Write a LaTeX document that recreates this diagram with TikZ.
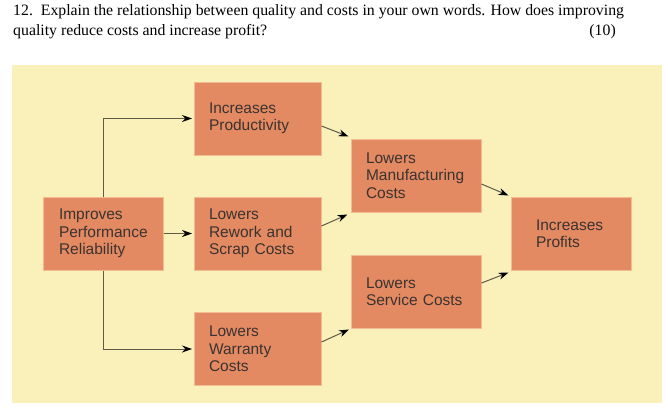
\documentclass[tikz,border=0pt]{standalone}
\usepackage{fontspec}
\setmainfont{Liberation Serif}
\newfontfamily\boxfont{Liberation Sans}
\usetikzlibrary{arrows.meta}

\definecolor{bgyellow}{HTML}{F9F0BA}
\definecolor{boxfill}{HTML}{E48A62}
\definecolor{boxedge}{HTML}{F3BC90}
\definecolor{boxtext}{HTML}{3A3330}
\definecolor{linegray}{HTML}{5E5A48}

\tikzset{
  stepbox/.style={draw=boxedge, line width=1pt, fill=boxfill, text=boxtext,
    font=\boxfont\fontsize{15.5}{17.5}\selectfont, align=left,
    minimum height=73pt, inner ysep=0pt},
  flow/.style={draw=linegray, line width=1pt, -{Stealth[length=10pt,width=7pt,black]}, shorten >=1.5pt},
  question/.style={inner sep=0pt, font=\fontsize{15.8}{20}\selectfont},
}

\begin{document}
\begin{tikzpicture}[x=1pt, y=-1pt]
  \useasboundingbox (0,0) rectangle (668,416);

  % question text
  \node[question, anchor=base west] (q1) at (13,15)
    {12.\ \ Explain the relationship between quality and costs in your own words. How does improving};
  \node[question, anchor=base west] (q2) at (13,35)
    {quality reduce costs and increase profit?};
  \node[question, anchor=base east] (mark) at (616,35) {(10)};

  % yellow panel
  \fill[bgyellow] (12,65) rectangle (662,403);

  % boxes
  \node[stepbox, minimum width=120pt, text width=88pt, inner xsep=16pt] (imp) at (103,233.5)
    {Improves\\Performance\\Reliability};
  \node[stepbox, minimum width=127pt, text width=97pt, inner xsep=15pt] (prod) at (257.5,118.5)
    {Increases\\Productivity};
  \node[stepbox, minimum width=127pt, text width=97pt, inner xsep=15pt] (rew) at (257.5,233.5)
    {Lowers\\Rework and\\Scrap Costs};
  \node[stepbox, minimum width=127pt, text width=97pt, inner xsep=15pt] (war) at (257.5,349)
    {Lowers\\Warranty\\Costs};
  \node[stepbox, minimum width=130pt, text width=100pt, inner xsep=15pt] (manu) at (416,175.5)
    {Lowers\\Manufacturing\\Costs};
  \node[stepbox, minimum width=130pt, text width=100pt, inner xsep=15pt] (serv) at (416,291.5)
    {Lowers\\Service Costs};
  \node[stepbox, minimum width=120pt, text width=70pt, inner xsep=25pt] (prof) at (571,233.5)
    {Increases\\Profits};

  % connectors
  \draw[flow] (imp.north) |- (prod.west);
  \draw[flow] (imp.south) |- (war.west);
  \draw[flow] (imp) -- (rew);
  \draw[flow, shorten >=0pt] ([yshift=-7.5pt]prod.east) -- ([xshift=-2pt,yshift=2pt]manu.north west);
  \draw[flow, shorten >=0pt] ([yshift=7.5pt]rew.east) -- ([xshift=-3pt,yshift=-2pt]manu.south west);
  \draw[flow, shorten >=0pt] ([yshift=7pt]war.east) -- ([xshift=-1.5pt,yshift=-1pt]serv.south west);
  \draw[flow, shorten >=0pt] ([yshift=-8.5pt]manu.east) -- ([xshift=-2pt,yshift=1pt]prof.north west);
  \draw[flow, shorten >=0pt] ([yshift=8.5pt]serv.east) -- ([xshift=-2pt,yshift=-2pt]prof.south west);
\end{tikzpicture}
\end{document}
